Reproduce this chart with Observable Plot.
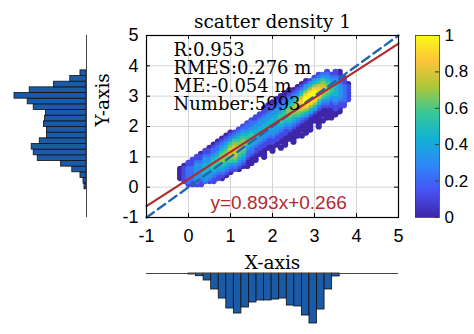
<!DOCTYPE html>
<html><head><meta charset="utf-8">
<script src="https://cdn.jsdelivr.net/npm/d3@7"></script>
<script src="https://cdn.jsdelivr.net/npm/@observablehq/plot@0.6"></script>
<style>
body{margin:0;background:#fff}
#chart{position:relative;width:474px;height:334px;overflow:hidden;background:#fff}
#chart svg{position:absolute;left:0;top:0}
</style>
</head><body><div id="chart"></div>
<script>
// ---------- data ----------
const xTicks = [-1, 0, 1, 2, 3, 4, 5];
const yTicks = [-1, 0, 1, 2, 3, 4, 5];
const cbTicks = [0, 0.2, 0.4, 0.6, 0.8, 1];
const titleText = "scatter density 1";
const xLabel = "X-axis";
const yLabel = "Y-axis";
const statNames = ["R", "RMES", "ME", "Number"];
const statValues = ["0.953", "0.276 m", "-0.054 m", "5993"];
const fitSlope = 0.893, fitIntercept = 0.266;
const fitLabel = "y=0.893x+0.266";

// scatter density: one row per y, start x, density level per 0.1 step (0..9, "." = no point)
const densityRowY = [3.8,3.7,3.6,3.5,3.4,3.3,3.2,3.1,3.0,2.9,2.8,2.7,2.6,2.5,2.4,2.3,2.2,2.1,2.0,1.9,1.8,1.7,1.6,1.5,1.4,1.3,1.2,1.1,1.0,0.9,0.8,0.7,0.6,0.5,0.4,0.3,0.2,0.1];
const densityRowX0 = [3.3,3.1,3.0,2.8,2.7,2.6,2.4,2.3,2.2,2.1,2.0,1.9,1.8,1.8,1.7,1.6,1.5,1.4,1.3,1.2,1.0,0.9,0.8,0.7,0.6,0.5,0.4,0.3,0.2,0.1,0.0,-0.1,-0.2,-0.2,-0.2,-0.2,-0.1,0.0];
const densityRowLevels = [
 "1.10",
 "122110",
 "12332211",
 "0134543311",
 "013456543210",
 "0134677654321",
 "001246887654321",
 "0012468986544321",
 "00123589975433321",
 "001235799853323221",
 "011234689864221211",
 "0112245788642111111",
 "0112235677643100010",
 "1123346665431000000",
 "1123345655431000000",
 "1123345554321000.00",
 "112334454432100000.",
 "1223344443321000.0.",
 "12233444332210000.0",
 "122334433321100000.",
 "01233444333211000.0.",
 "0123445433221100000.",
 "012345553321110000..",
 "01235565432111000.0.",
 "0123566643211000.0..",
 "0123467663211000.0.",
 "112245776522100.0..",
 "0112356775421000..",
 "112234666643100.0.",
 "1113345655532000.",
 "1122335554332100",
 "0113344544322100",
 "012233444332110",
 "0122334332210",
 "012233332110",
 "01223232110",
 "12121211",
 "1111"
];

// marginal histograms (counts per bin)
const yHistCounts = [16,24,48,113,202,388,420,436,372,315,315,339,331,323,420,468,573,452,258,129,48];
const yHistStart = -0.07, yHistWidth = 0.1867;
const xHistCounts = [12,32,83,189,296,414,473,402,343,319,319,308,296,379,390,497,591,426,189,35];
const xHistStart = 0, xHistWidth = 0.18;

const parulaStops = ["#3e26a8","#4852f4","#2e87f7","#12b1d6","#37c897","#abc739","#fec338","#f9fb15"];

// ---------- build ----------
const W = 474, H = 334;
const M = {left: 146, right: 76, top: 35, bottom: 117};
const parula = d3.piecewise(d3.interpolateRgb, parulaStops);
const lim = [xTicks[0], xTicks[xTicks.length - 1]];

const cells = [];
densityRowY.forEach((y, i) => {
  const s = densityRowLevels[i];
  for (let j = 0; j < s.length; j++) {
    if (s[j] === ".") continue;
    cells.push({x: Math.round((densityRowX0[i] + j * 0.1) * 10) / 10, y, v: +s[j] / 9});
  }
});
cells.sort((a, b) => a.v - b.v);

const yBins = yHistCounts.map((c, i) => ({y1: yHistStart + i * yHistWidth, y2: yHistStart + (i + 1) * yHistWidth, count: c}));
const xBins = xHistCounts.map((c, i) => ({x1: xHistStart + i * xHistWidth, x2: xHistStart + (i + 1) * xHistWidth, count: c}));
const statText = statNames.map((n, i) => n + ":" + statValues[i]).join("\n");

const serif = "'DejaVu Serif', serif";
const sans = "'Liberation Sans', Arial, sans-serif";
const baseStyle = {fontFamily: sans, fontSize: "18px", background: "transparent", overflow: "visible", color: "black"};
const histBlue = "#1b5aa6";

const main = Plot.plot({
  width: W, height: H,
  marginLeft: M.left, marginRight: M.right, marginTop: M.top, marginBottom: M.bottom,
  x: {domain: lim, label: null}, y: {domain: lim, label: null},
  color: {type: "identity"},
  style: baseStyle,
  marks: [
    Plot.gridX(xTicks, {stroke: "#d6d6d6", strokeOpacity: 1}),
    Plot.gridY(yTicks, {stroke: "#d6d6d6", strokeOpacity: 1}),
    Plot.dot(cells, {x: "x", y: "y", r: 3.1, fill: d => parula(d.v), stroke: null}),
    Plot.line(lim.map(v => ({x: v, y: v})), {x: "x", y: "y", stroke: "#1f68b0", strokeWidth: 2.4, strokeDasharray: "9,5"}),
    Plot.line(lim.map(v => ({x: v, y: fitSlope * v + fitIntercept})), {x: "x", y: "y", stroke: "#b22a2e", strokeWidth: 2.2}),
    Plot.frame({stroke: "black", strokeWidth: 1.2}),
    Plot.tickX(xTicks, {x: d => d, insetTop: 178, stroke: "black"}),
    Plot.tickX(xTicks, {x: d => d, insetBottom: 178, stroke: "black"}),
    Plot.tickY(yTicks, {y: d => d, insetRight: 248, stroke: "black"}),
    Plot.tickY(yTicks, {y: d => d, insetLeft: 248, stroke: "black"}),
    Plot.axisX(xTicks, {tickSize: 0, tickPadding: 12, tickFormat: d => String(d), fontSize: 18, label: null}),
    Plot.axisY(yTicks, {tickSize: 0, tickPadding: 8, tickFormat: d => String(d), fontSize: 18, label: null}),
    Plot.text([statText], {frameAnchor: "top-left", dx: 27, dy: 8, lineAnchor: "top", textAnchor: "start", fontFamily: serif, fontSize: 18, lineHeight: 0.99, fill: "black"}),
    Plot.text([fitLabel], {frameAnchor: "bottom-left", dx: 64, dy: -9, lineAnchor: "bottom", textAnchor: "start", fontFamily: sans, fontSize: 19, fill: "#b22a2e"}),
    Plot.text([titleText], {frameAnchor: "top", dy: -8, lineAnchor: "bottom", fontFamily: serif, fontSize: 18.5, fill: "black"}),
    Plot.text([xLabel], {frameAnchor: "bottom", dy: 51, lineAnchor: "bottom", fontFamily: serif, fontSize: 18.5, fill: "black"}),
    Plot.text([yLabel], {frameAnchor: "left", dx: -38, rotate: -90, lineAnchor: "bottom", fontFamily: serif, fontSize: 18.5, fill: "black"})
  ]
});

const leftHist = Plot.plot({
  width: W, height: H,
  marginLeft: 14, marginRight: W - 86, marginTop: M.top, marginBottom: M.bottom,
  x: {domain: [0, d3.max(yHistCounts)], reverse: true, axis: null},
  y: {domain: lim, axis: null},
  style: baseStyle,
  marks: [
    Plot.rectX(yBins, {y1: "y1", y2: "y2", x: "count", fill: histBlue, stroke: "#111", strokeWidth: 0.8}),
    Plot.ruleX([0], {stroke: "#444", strokeWidth: 1})
  ]
});

const bottomHist = Plot.plot({
  width: W, height: H,
  marginLeft: M.left, marginRight: M.right, marginTop: 273, marginBottom: 11,
  x: {domain: lim, axis: null},
  y: {domain: [0, d3.max(xHistCounts)], reverse: true, axis: null},
  style: baseStyle,
  marks: [
    Plot.rectY(xBins, {x1: "x1", x2: "x2", y: "count", fill: histBlue, stroke: "#111", strokeWidth: 0.8}),
    Plot.ruleY([0], {stroke: "#444", strokeWidth: 1})
  ]
});

const ramp = d3.range(0, 1, 0.005);
const colorbar = Plot.plot({
  width: W, height: H,
  marginLeft: 415, marginRight: 35, marginTop: M.top, marginBottom: M.bottom,
  x: {domain: [0, 1], axis: null},
  y: {domain: [0, 1], label: null},
  color: {type: "identity"},
  style: baseStyle,
  marks: [
    Plot.rect(ramp, {x1: 0, x2: 1, y1: d => d, y2: d => Math.min(1, d + 0.007), fill: d => parula(d + 0.0025), shapeRendering: "crispEdges"}),
    Plot.frame({stroke: "#3a3a3a", strokeWidth: 0.8}),
    Plot.tickY(cbTicks, {y: d => d, insetLeft: 20, stroke: "#3a3a3a"}),
    Plot.axisY(cbTicks, {anchor: "right", tickSize: 0, tickPadding: 5, tickFormat: d => String(d), fontSize: 17, label: null})
  ]
});

const root = document.getElementById("chart");
[main, leftHist, bottomHist, colorbar].forEach(el => {
  el.style.position = "absolute";
  el.style.left = "0px";
  el.style.top = "0px";
  el.style.background = "transparent";
  root.appendChild(el);
});
</script>
</body></html>
